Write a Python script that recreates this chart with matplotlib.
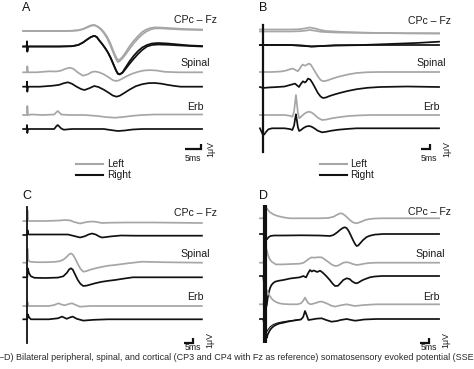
import numpy as np
import matplotlib
matplotlib.use("Agg")
import matplotlib.pyplot as plt
from matplotlib.lines import Line2D

plt.rcParams['font.family'] = ['Liberation Sans', 'DejaVu Sans']

# ---------------- DATA (time in ms, deflection in microvolts) ----------------
# Panel A
A_cpc_L_t = [-1.2, 0, 5, 10, 14, 16, 17.5, 18.8, 19.8, 20.6, 21.4, 22.2, 23.1, 24, 25, 26, 27, 27.8, 28.4, 29, 29.8, 30.8, 32, 33.3, 34.7, 36, 37.3, 38.6, 40, 42, 45, 49, 54.7]
A_cpc_L_v = [0, 0, 0, 0, 0.04, 0.14, 0.4, 0.8, 1.08, 1.2, 1.12, 0.8, 0.3, -0.4, -1.4, -2.8, -4.4, -5.6, -6.2, -6.0, -5.5, -4.7, -3.6, -2.5, -1.5, -0.7, -0.1, 0.3, 0.52, 0.52, 0.4, 0.28, 0.2]
A_cpc_L2_v = [0, 0, 0, 0, 0.04, 0.14, 0.36, 0.7, 1.0, 1.12, 1.1, 0.86, 0.44, -0.2, -1.1, -2.4, -4.0, -5.2, -5.8, -5.7, -5.2, -4.3, -3.1, -2.0, -1.0, -0.2, 0.3, 0.6, 0.72, 0.68, 0.56, 0.4, 0.3]
A_cpc_R_t = [-1.2, -0.1, 0, 0.1, 0.3, 5, 10, 14, 16, 17.5, 18.8, 20, 21, 21.8, 22.6, 23.5, 24.4, 25.3, 26.2, 27, 27.8, 28.4, 29, 29.8, 30.8, 32, 33.3, 34.7, 36, 37.5, 39, 41, 44, 48, 51, 54.7]
A_cpc_R_v = [0, 0, 1, -1, 0, 0, 0, 0.06, 0.3, 0.8, 1.4, 1.9, 2.14, 1.9, 1.2, 0.5, -0.3, -1.2, -2.4, -3.6, -4.8, -5.5, -5.6, -5.2, -4.2, -3.0, -1.9, -0.9, -0.2, 0.3, 0.6, 0.7, 0.6, 0.36, 0.2, 0.1]
A_cpc_R2_v = [0, 0, 1, -1, 0, 0, 0, 0.06, 0.3, 0.8, 1.4, 1.9, 2.14, 1.9, 1.2, 0.5, -0.3, -1.2, -2.3, -3.5, -4.7, -5.4, -5.5, -5.3, -4.5, -3.5, -2.5, -1.5, -0.7, 0, 0.3, 0.4, 0.34, 0.2, 0.1, 0]
A_sp_L_t = [-1.2, 0, 0.1, 0.3, 3, 5, 7, 9, 10.5, 12, 13.4, 14.5, 15.8, 17.5, 19, 20.3, 21.3, 22.5, 24, 25.5, 26.8, 27.7, 28.6, 29.8, 31.2, 32.8, 34.7, 36.5, 38.5, 40.5, 43, 47, 54.7]
A_sp_L_v = [0, 0, 1.2, 0, 0, 0.1, 0.2, 0.16, 0.3, 0.7, 0.92, 0.7, 0, -0.68, -0.4, 0.06, 0.16, 0, -0.4, -1.0, -1.56, -1.74, -1.64, -1.26, -0.76, -0.3, 0.1, 0.36, 0.44, 0.36, 0.1, 0, 0]
A_sp_R_t = [-1.2, -0.1, 0, 0.1, 0.3, 4, 6, 8, 10, 11.5, 12.8, 14, 15.5, 17, 18, 19.5, 21, 22.3, 24, 25.5, 26.8, 28, 29, 30.3, 32, 34, 36, 38, 40, 42, 44, 46, 48, 54.7]
A_sp_R_v = [0, 0, 1.0, -1.0, 0, 0, 0.1, 0.2, 0.36, 0.7, 0.88, 0.6, 0, -0.5, -0.66, -0.3, 0.14, -0.06, -0.6, -1.2, -1.76, -2.0, -1.8, -1.3, -0.6, 0.1, 0.5, 0.72, 0.74, 0.6, 0.36, 0.16, 0, 0]
A_erb_L_t = [-1.2, 0, 0.1, 0.3, 1.5, 5, 8.5, 9.1, 9.6, 10.1, 10.7, 13, 18, 22, 25, 27.5, 30, 33, 36, 40, 54.7]
A_erb_L_v = [0, 0, 1.8, 0, 0.1, 0, 0.1, 0.5, 0.8, 0.5, 0.1, 0, 0, -0.2, -0.44, -0.54, -0.4, -0.16, 0, 0.1, 0.1]
A_erb_R_t = [-1.2, -0.1, 0, 0.1, 0.3, 8.5, 9.1, 9.6, 10.1, 10.7, 11.5, 14, 24, 26.5, 28.4, 30.5, 33, 36, 54.7]
A_erb_R_v = [0, 0, 0.8, -0.8, 0, 0, 0.5, 0.8, 0.5, 0.1, -0.14, 0, 0, -0.24, -0.4, -0.3, -0.1, 0, 0]

# Panel B
B_cpc_L_t = [-1.7, 5, 15, 20, 23, 26, 29, 32, 35, 45, 60, 80, 97.8]
B_cpc_L_v = [0.4, 0.4, 0.4, 0.45, 0.6, 0.8, 0.6, 0.3, 0.1, -0.1, -0.26, -0.36, -0.36]
B_cpc_L2_t = [-1.7, 15, 20, 23, 26, 29, 32, 40, 60, 97.8]
B_cpc_L2_v = [0, 0, 0.05, 0.15, 0.3, 0.15, -0.05, -0.2, -0.3, -0.4]
B_cpc_R_t = [-1.7, 15, 22, 27, 32, 40, 55, 70, 85, 97.8]
B_cpc_R_v = [0, 0, -0.1, -0.3, -0.2, -0.06, 0, 0.2, 0.4, 0.66]
B_cpc_R2_t = [-1.7, 15, 27, 40, 60, 97.8]
B_cpc_R2_v = [0, 0, -0.3, -0.1, 0, 0]
B_sp_L_t = [-1.7, 5, 10, 13, 15, 16.7, 18, 19.4, 20.5, 21.5, 22.2, 23.2, 24.2, 25.3, 26.5, 27.7, 29, 30.5, 32, 33.5, 35.5, 38, 41, 44, 48, 52, 58, 65, 97.8]
B_sp_L_v = [0, 0, 0.1, 0.3, 0.56, 0.68, 0.4, 0.16, 0.7, 1.3, 1.48, 1.26, 1.4, 1.68, 1.5, 0.8, 0, -0.9, -1.6, -1.84, -1.72, -1.4, -1.04, -0.76, -0.44, -0.2, -0.04, 0, 0]
B_sp_R_t = [-1.7, 0, 3, 8, 12, 15, 17.8, 19, 20, 21, 22.2, 23.2, 24, 25, 26.2, 27.5, 29, 30.5, 32, 33.3, 35, 37, 40, 43, 47, 52, 58, 65, 80, 97.8]
B_sp_R_v = [0, -0.2, -0.1, 0, 0.1, 0.4, 0.68, 0.3, 0, 0.6, 1.14, 0.9, 1.1, 1.68, 1.5, 0.8, -0.2, -1.2, -1.9, -2.2, -2.1, -1.8, -1.46, -1.16, -0.8, -0.44, -0.16, 0, 0.1, 0]
B_erb_L_t = [-1.7, 5, 12, 15, 16.3, 17.2, 17.8, 18.3, 18.8, 19.4, 20.1, 21, 22.5, 24, 25.6, 27, 28.5, 30.5, 32.8, 35, 38, 41, 46, 52, 60, 97.8]
B_erb_L_v = [0, 0, 0, -0.16, -0.34, 0.6, 2.4, 4.0, 2.4, 0.4, -0.66, -0.4, 0.1, 0.5, 0.66, 0.5, 0.1, -0.56, -1.0, -0.92, -0.68, -0.5, -0.26, -0.1, 0, 0]
B_erb_R_t = [-1.7, 0, 0.8, 1.5, 3, 5, 12, 15, 16.3, 17.3, 17.8, 18.3, 18.8, 19.4, 20.1, 21, 22.5, 24, 25.6, 27, 28.5, 30.5, 32.8, 35, 38, 42, 47, 52, 97.8]
B_erb_R_v = [0, -1.34, -1.2, -0.8, -0.2, 0, 0, -0.16, -0.34, 0.6, 1.8, 2.8, 1.6, 0.2, -0.54, -0.36, 0.06, 0.36, 0.46, 0.32, 0, -0.5, -0.8, -0.7, -0.48, -0.28, -0.12, 0, 0]

# Panel C
C_cpc_L_t = [-2.2, 0, 0.1, 0.3, 1, 10, 18, 21, 24, 26, 29.3, 33, 36, 38, 41.5, 46, 55, 70, 97]
C_cpc_L_v = [0.1, 0.1, 2.2, 0.2, 0.1, 0.1, 0.2, 0.3, 0.2, -0.1, -0.4, -0.1, 0, -0.06, -0.3, -0.24, -0.2, -0.2, -0.3]
C_cpc_R_t = [-2.2, 0, 0.1, 0.5, 1, 10, 22.6, 26, 29.3, 32, 34, 36, 38, 40, 41.5, 44, 46, 52, 60, 97]
C_cpc_R_v = [0, 0, 1.0, 0.2, 0.1, 0.1, 0.1, -0.2, -0.5, -0.25, 0.1, 0.3, 0.1, -0.3, -0.5, -0.4, -0.3, -0.1, -0.14, -0.14]
C_sp_L_t = [-2.2, 0, 0.1, 0.4, 1.5, 5, 10, 15, 18, 20, 22, 23.3, 24.3, 25.3, 26.5, 28, 29.5, 31.1, 33, 35, 37.6, 41, 45, 48.7, 55, 63.7, 75, 97]
C_sp_L_v = [0, 0, 2.8, 0.6, 0.2, 0.1, 0.1, 0.16, 0.3, 0.6, 1.2, 1.7, 1.86, 1.6, 0.9, -0.2, -1.2, -1.8, -1.66, -1.4, -1.14, -0.86, -0.6, -0.46, -0.16, 0.2, 0.1, 0]
C_sp_R_t = [-2.2, 0, 0.2, 1, 2, 4, 10, 17, 20, 22, 23.3, 24.3, 25.3, 26.5, 28, 29.5, 31.1, 33, 35, 37.6, 41, 45, 48.7, 54, 58.7, 70, 97]
C_sp_R_v = [0, 0, 1.8, 0.8, 0.2, -0.1, -0.14, -0.06, 0.2, 0.9, 1.6, 1.8, 1.5, 0.6, -0.5, -1.3, -1.74, -1.66, -1.46, -1.2, -0.92, -0.7, -0.54, -0.24, 0, 0, 0]
C_erb_L_t = [-2.2, 0, 0.1, 0.4, 12, 15, 17.3, 19, 20.9, 23, 24.8, 27, 29.3, 35, 97]
C_erb_L_v = [0, 0, 0.8, 0, 0, 0.2, 0.54, 0.3, 0.14, 0.4, 0.54, 0.2, -0.14, 0, 0]
C_erb_R_t = [-2.2, 0, 0.2, 1, 2, 12, 17, 19.3, 21, 21.9, 23.5, 25.2, 27.5, 31.1, 37, 45, 97]
C_erb_R_v = [0, 0, 1.0, 0.4, 0, 0, 0.2, 0.54, 0.25, 0.1, 0.35, 0.54, 0.1, -0.26, -0.1, 0, 0]

# Panel D
D_cpc_L_t = [-2.8, -1, 1, 1.8, 2.8, 4.6, 6.5, 8.3, 11, 13.9, 30, 35, 38, 40, 41.7, 43.2, 45, 47, 48.8, 50.6, 52.2, 54, 56, 58.3, 61, 65, 96.7]
D_cpc_L_v = [0, 0, 2.0, 1.6, 1.2, 0.8, 0.52, 0.34, 0.14, 0, 0, 0.06, 0.3, 0.7, 1.0, 0.9, 0.4, -0.3, -0.8, -1.0, -0.86, -0.6, -0.3, -0.14, -0.04, 0, 0]
D_cpc_R_t = [-2.8, -1, 0.5, 1.2, 2, 3, 5, 10, 20, 30, 34, 36.1, 38, 40, 42, 43.4, 44.4, 45.4, 46.5, 47.7, 49, 50.2, 50.9, 51.8, 53, 54.5, 56.5, 58.3, 61, 65.6, 96.7]
D_cpc_R_v = [0, 0, -1.2, -1.0, -0.64, -0.4, -0.3, -0.3, -0.26, -0.3, -0.36, -0.4, -0.2, 0.3, 0.9, 1.24, 1.34, 1.16, 0.6, -0.3, -1.3, -2.1, -2.4, -2.3, -1.8, -1.2, -0.6, -0.34, -0.12, 0, 0]
D_sp_L_t = [-2.8, -1, 1, 1.8, 2.8, 3.7, 4.6, 6, 10, 15, 19.4, 21.5, 23, 24.5, 25.9, 27.5, 29.5, 31.5, 33, 35, 37, 38.9, 40.5, 42, 43.5, 45.4, 47, 48.5, 50.9, 53, 55, 58, 62, 96.7]
D_sp_L_v = [0, 0, 2.54, 1.4, 0.6, 0.2, 0, -0.34, -0.34, -0.26, -0.2, 0, 0.4, 0.8, 1.06, 1.0, 1.1, 1.06, 0.7, 0.2, -0.36, -0.66, -0.6, -0.3, 0, 0.1, 0, -0.24, -0.46, -0.36, -0.2, -0.06, 0, 0]
D_sp_R_t = [-2.8, -1, 0.9, 1.5, 2.2, 2.8, 3.6, 4.6, 5.6, 7.5, 10.2, 14, 19.4, 21.3, 22.8, 24, 25, 26, 27, 27.8, 29, 30.6, 32, 34, 36, 37.5, 38.9, 40.5, 42, 43.5, 45.4, 47, 48.5, 50, 50.9, 52, 53.5, 55, 58.3, 61, 65, 96.7]
D_sp_R_v = [0, 0, -6.0, -4.4, -3.2, -2.4, -1.8, -1.4, -1.14, -0.96, -0.8, -0.5, -0.26, 0, -0.28, 0.6, 1.2, 0.9, 1.1, 1.0, 0.8, 1.06, 0.7, 0, -0.8, -1.5, -2.0, -1.96, -1.4, -0.8, -0.46, -0.6, -1.1, -1.4, -1.46, -1.3, -0.96, -0.7, -0.26, -0.1, 0, 0]
D_erb_L_t = [-2.8, -1, 1, 1.8, 2.8, 3.8, 4.6, 5.5, 6.5, 8, 10.2, 14, 18, 20, 21.2, 22.2, 23.2, 24.1, 25.5, 28, 30, 31.5, 33, 35, 37, 38.9, 42, 45.4, 48, 50, 52, 55, 62, 96.7]
D_erb_L_v = [0, 0, 2.8, 2.2, 1.6, 1.1, 0.8, 0.6, 0.4, 0.2, 0.06, 0, 0, 0.2, 0.7, 1.34, 0.7, 0.2, 0, 0.24, 0.5, 0.54, 0.36, 0.06, -0.3, -0.46, -0.2, 0, -0.2, -0.34, -0.26, -0.14, 0, 0]
D_erb_R_t = [-2.8, -1, 0.9, 1.5, 2.2, 2.8, 3.8, 5, 6.5, 8, 10.2, 13, 15.7, 18, 20, 21.2, 21.8, 22.2, 22.7, 23.5, 24.1, 26, 28.5, 31.5, 34, 37, 40, 42, 45.4, 48, 50, 52, 55, 62, 96.7]
D_erb_R_v = [0, 0, -3.8, -3.1, -2.6, -2.2, -1.76, -1.4, -1.1, -0.9, -0.74, -0.5, -0.34, -0.2, -0.1, 0.4, 1.1, 1.6, 1.2, 0.4, -0.2, -0.1, 0.06, 0.14, -0.2, -0.54, -0.4, -0.2, 0, -0.2, -0.34, -0.26, -0.1, 0, 0]
D_erb_R2_t = [0.9, 1.5, 2.2, 2.8, 3.8, 5, 6.5, 8, 10.2, 13, 15.7, 18, 20]
D_erb_R2_v = [-2.6, -2.2, -1.9, -1.6, -1.3, -1.05, -0.85, -0.7, -0.55, -0.4, -0.28, -0.16, -0.08]

# Stimulus artifact extents (microvolts relative to panel top)
B_artifact_v = [-5.0, -30.4]
C_artifact_v = [-5.4, -32.6]
D_artifact_v = [-5.0, -32.6]

panel_labels = ['A', 'B', 'C', 'D']
lead_labels = ['CPc – Fz', 'Spinal', 'Erb']
legend_labels = ['Left', 'Right']
caption = ("(A–D) Bilateral peripheral, spinal, and cortical (CP3 and CP4 with Fz as reference) "
           "somatosensory evoked potential (SSEP) recordings")

# ---------------- LAYOUT ----------------
W, H = 474, 369
UV = 5.0  # pixels per microvolt
GRAY = '#a6a6a6'
BLACK = '#111111'
LW = 1.25

fig = plt.figure(figsize=(W / 100, H / 100), dpi=100)


def make_panel(box, x0, ppm):
    xl, yt, xr, yb = box
    ax = fig.add_axes([xl / W, 1 - yb / H, (xr - xl) / W, (yb - yt) / H])
    ax.set_xlim((xl - x0) / ppm, (xr - x0) / ppm)
    ax.set_ylim(-(yb - yt) / UV, 0)
    ax.axis('off')
    return ax


def base(yt, py):
    return -(py - yt) / UV


def trace(ax, t, v, off, color, lw=LW):
    ax.plot(t, off + np.asarray(v), color=color, lw=lw, solid_joinstyle='round')


def scalebar(ax, yt, x0, ppm, xr_px, y_px):
    tb = (xr_px - x0) / ppm
    yb = base(yt, y_px)
    ax.plot([tb - 5, tb, tb], [yb, yb, yb + 1], color=BLACK, lw=1.6,
            solid_joinstyle='miter', solid_capstyle='butt')


def ftext(x, y, s, **kw):
    fig.text(x / W, 1 - y / H, s, **kw)


# Panel A
axA = make_panel((0, 0, 237, 180), 27, 3.2)
trace(axA, A_cpc_L_t, A_cpc_L_v, base(0, 31), GRAY)
trace(axA, A_cpc_L_t, A_cpc_L2_v, base(0, 31), GRAY)
trace(axA, A_cpc_R_t, A_cpc_R_v, base(0, 46.5), BLACK)
trace(axA, A_cpc_R_t, A_cpc_R2_v, base(0, 46.5), BLACK)
trace(axA, A_sp_L_t, A_sp_L_v, base(0, 72.3), GRAY)
trace(axA, A_sp_R_t, A_sp_R_v, base(0, 86.7), BLACK)
trace(axA, A_erb_L_t, A_erb_L_v, base(0, 115), GRAY)
trace(axA, A_erb_R_t, A_erb_R_v, base(0, 129), BLACK)
scalebar(axA, 0, 27, 3.2, 201, 149)

# Panel B
axB = make_panel((237, 0, 474, 180), 263, 1.8)
trace(axB, B_cpc_L_t, B_cpc_L_v, base(0, 31.5), GRAY)
trace(axB, B_cpc_L2_t, B_cpc_L2_v, base(0, 31.5), GRAY)
trace(axB, B_cpc_R_t, B_cpc_R_v, base(0, 45), BLACK)
trace(axB, B_cpc_R2_t, B_cpc_R2_v, base(0, 45), BLACK)
trace(axB, B_sp_L_t, B_sp_L_v, base(0, 72), GRAY)
trace(axB, B_sp_R_t, B_sp_R_v, base(0, 87), BLACK)
trace(axB, B_erb_L_t, B_erb_L_v, base(0, 115), GRAY)
trace(axB, B_erb_R_t, B_erb_R_v, base(0, 128.3), BLACK)
axB.plot([0, 0], B_artifact_v, color=BLACK, lw=1.6)
scalebar(axB, 0, 263, 1.8, 429.7, 149)

# Panel C
axC = make_panel((0, 180, 237, 369), 27.3, 1.8)
trace(axC, C_cpc_L_t, C_cpc_L_v, base(180, 221.5), GRAY)
trace(axC, C_cpc_R_t, C_cpc_R_v, base(180, 235), BLACK)
trace(axC, C_sp_L_t, C_sp_L_v, base(180, 262.7), GRAY)
trace(axC, C_sp_R_t, C_sp_R_v, base(180, 277.3), BLACK)
trace(axC, C_erb_L_t, C_erb_L_v, base(180, 306), GRAY)
trace(axC, C_erb_R_t, C_erb_R_v, base(180, 319.3), BLACK)
axC.plot([0, 0], C_artifact_v, color=BLACK, lw=1.3)
scalebar(axC, 180, 27.3, 1.8, 192.7, 342.7)

# Panel D
axD = make_panel((237, 180, 474, 369), 265, 1.8)
trace(axD, D_cpc_L_t, D_cpc_L_v, base(180, 218.3), GRAY)
trace(axD, D_cpc_R_t, D_cpc_R_v, base(180, 234), BLACK)
trace(axD, D_sp_L_t, D_sp_L_v, base(180, 262.7), GRAY)
trace(axD, D_sp_R_t, D_sp_R_v, base(180, 276), BLACK)
trace(axD, D_erb_L_t, D_erb_L_v, base(180, 304.3), GRAY)
trace(axD, D_erb_R_t, D_erb_R_v, base(180, 319), BLACK)
trace(axD, D_erb_R2_t, D_erb_R2_v, base(180, 319), BLACK, lw=0.8)
axD.plot([0, 0], D_artifact_v, color=BLACK, lw=3.0, solid_capstyle='butt')
scalebar(axD, 180, 265, 1.8, 429, 342.7)

# Panel letters
for lab, (x, y) in zip(panel_labels, [(26, 8), (263.5, 8), (26.5, 196), (263.5, 196)]):
    ftext(x, y, lab, fontsize=9, ha='center', va='center', color=BLACK)

# Lead labels
lead_pos = [
    [(195.5, 20.3), (195.5, 63.3), (195.5, 107.3)],
    [(429, 20.5), (431, 62.7), (431.5, 106.7)],
    [(195.5, 212.7), (195, 254), (195, 297.3)],
    [(429, 212.3), (430, 254), (431, 296.7)],
]
for panel in lead_pos:
    for lab, (x, y) in zip(lead_labels, panel):
        ftext(x, y, lab, fontsize=7.6, ha='center', va='center', color='#1a1a1a')

# Scale bar texts
for (x5, y5), (xu, yu) in [((193, 158.3), (210.5, 149)), ((428.7, 158.3), (446.3, 149)),
                           ((193, 347.7), (209.5, 339.5)), ((429, 347.7), (446, 339.5))]:
    ftext(x5, y5, '5ms', fontsize=6.3, ha='center', va='center', color='#1a1a1a')
    ftext(xu, yu, '1μV', fontsize=6.3, ha='center', va='center', rotation=90, color='#1a1a1a')

# Legends (panels A and B)
for lx1, lx2, tx in [(76, 103, 106.7), (320, 347, 349.7)]:
    for (col, yy, lab) in [(GRAY, 164, legend_labels[0]), (BLACK, 174.5, legend_labels[1])]:
        fig.add_artist(Line2D([lx1 / W, lx2 / W], [1 - yy / H, 1 - yy / H], color=col,
                              lw=1.5, transform=fig.transFigure))
        ftext(tx, yy + 0.5, lab, fontsize=7.3, ha='left', va='center', color='#1a1a1a')

# Caption (cut at the figure edges, as in the original)
ftext(-10, 357, caption, fontsize=6.45, ha='left', va='center', color='#2a2a2a')

fig.savefig('out.png', dpi=100)
